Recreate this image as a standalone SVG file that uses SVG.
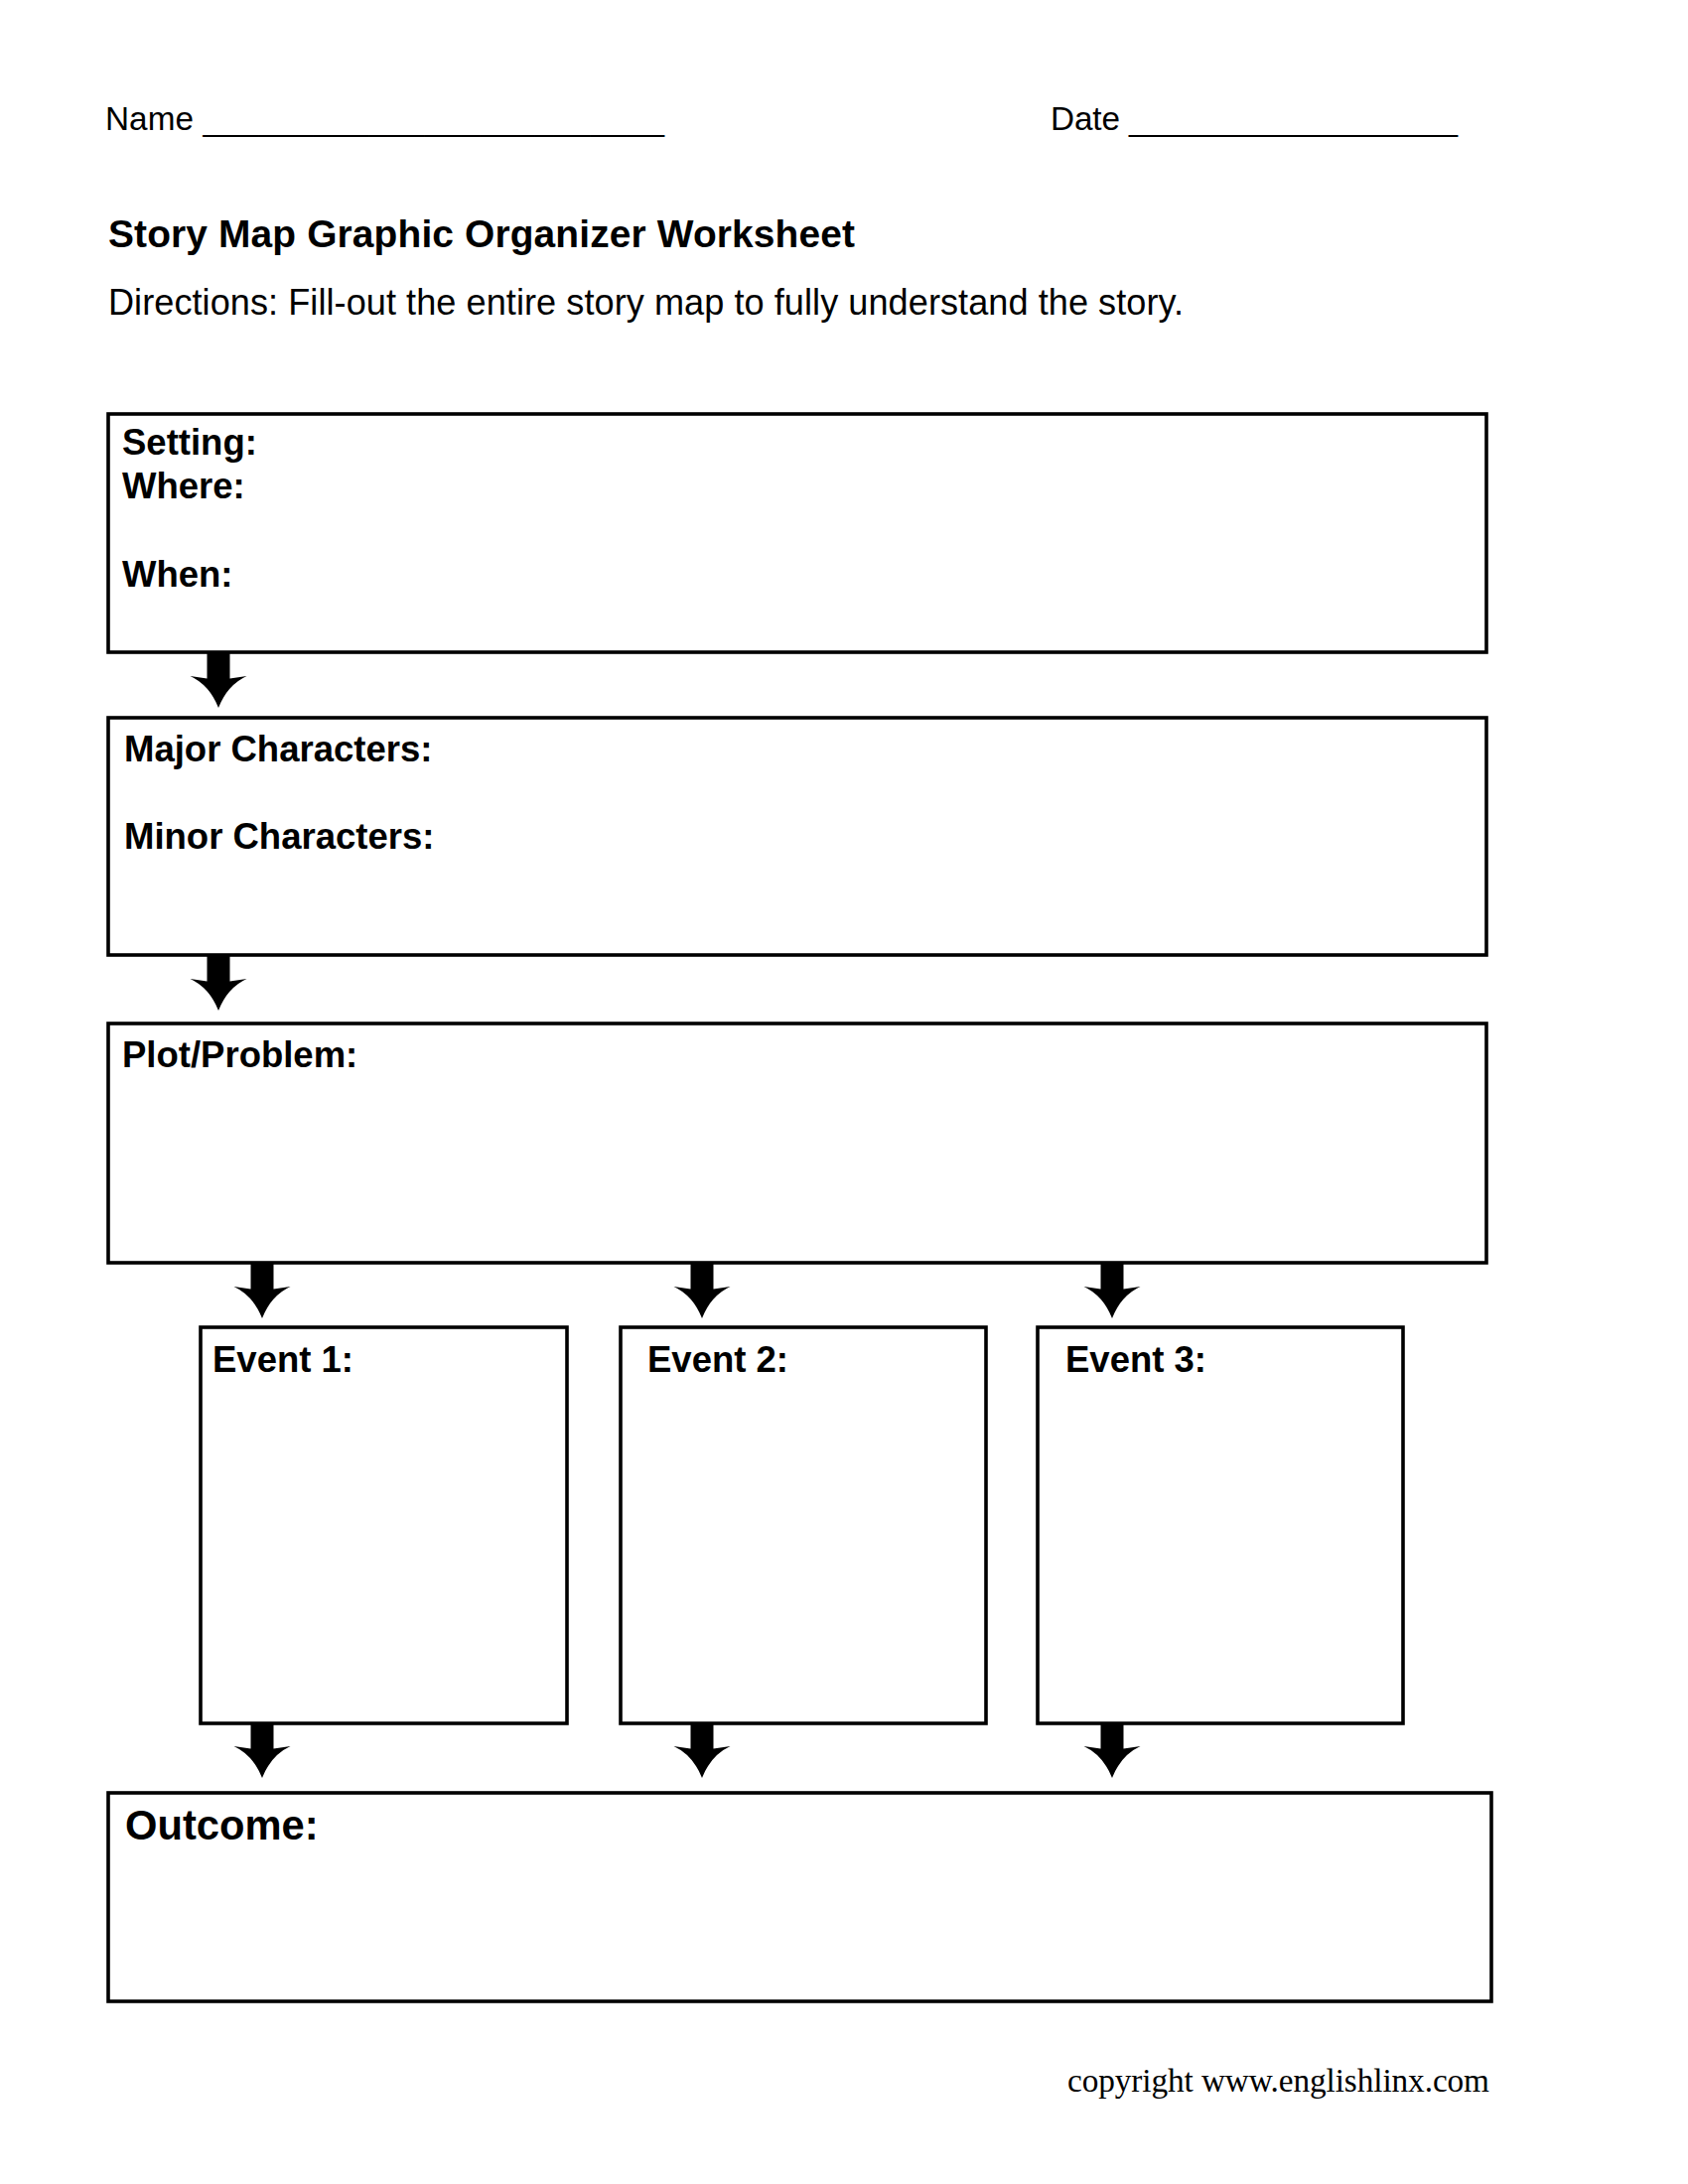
<svg xmlns="http://www.w3.org/2000/svg" xmlns:xlink="http://www.w3.org/1999/xlink" width="1700" height="2200" viewBox="0 0 1700 2200">
  <style>
    .box { fill: #ffffff; stroke: #000000; stroke-width: 3.6; }
    .lbl { font-family: "Liberation Sans", Arial, sans-serif; font-weight: bold; font-size: 36.5px; fill: #000000; }
    .lblBig { font-family: "Liberation Sans", Arial, sans-serif; font-weight: bold; font-size: 41.7px; fill: #000000; }
    .hdr { font-family: "Liberation Sans", Arial, sans-serif; font-size: 33.3px; fill: #000000; }
    .title { font-family: "Liberation Sans", Arial, sans-serif; font-weight: bold; font-size: 38.9px; fill: #000000; }
    .dir { font-family: "Liberation Sans", Arial, sans-serif; font-size: 36.1px; fill: #000000; }
    .copy { font-family: "Liberation Serif", "Times New Roman", serif; font-size: 33.3px; fill: #000000; }
    .arrow { fill: #000000; stroke: none; }
  </style>
  <defs>
    <path id="arrowDown" class="arrow" d="M -11.5,0 H 11.5 V 27.5 L 28.5,25 Q 9,34 0,57 Q -9,34 -28.5,25 L -11.5,27.5 Z"/>
  </defs>
  <rect x="0" y="0" width="1700" height="2200" fill="#ffffff"/>

  <g id="header">
    <text class="hdr" x="106" y="131" textLength="563" lengthAdjust="spacing">Name _________________________</text>
    <text class="hdr" x="1058" y="131" textLength="410" lengthAdjust="spacing">Date __________________</text>
    <text class="title" x="109" y="249" textLength="752" lengthAdjust="spacing">Story Map Graphic Organizer Worksheet</text>
    <text class="dir" x="109" y="317" textLength="1083" lengthAdjust="spacing">Directions: Fill-out the entire story map to fully understand the story.</text>
  </g>

  <g id="connectors">
    <use xlink:href="#arrowDown" href="#arrowDown" transform="translate(220,656)"/>
    <use xlink:href="#arrowDown" href="#arrowDown" transform="translate(220,961)"/>
    <use xlink:href="#arrowDown" href="#arrowDown" transform="translate(264,1271)"/>
    <use xlink:href="#arrowDown" href="#arrowDown" transform="translate(707,1271)"/>
    <use xlink:href="#arrowDown" href="#arrowDown" transform="translate(1120,1271)"/>
    <use xlink:href="#arrowDown" href="#arrowDown" transform="translate(264,1734)"/>
    <use xlink:href="#arrowDown" href="#arrowDown" transform="translate(707,1734)"/>
    <use xlink:href="#arrowDown" href="#arrowDown" transform="translate(1120,1734)"/>
  </g>

  <g id="setting">
    <rect class="box" x="109" y="417" width="1388" height="240"/>
    <text class="lbl" x="123" y="458">Setting:</text>
    <text class="lbl" x="123" y="502">Where:</text>
    <text class="lbl" x="123" y="591">When:</text>
  </g>

  <g id="characters">
    <rect class="box" x="109" y="723" width="1388" height="239"/>
    <text class="lbl" x="125" y="767">Major Characters:</text>
    <text class="lbl" x="125" y="855">Minor Characters:</text>
  </g>

  <g id="plot">
    <rect class="box" x="109" y="1031" width="1388" height="241"/>
    <text class="lbl" x="123" y="1075">Plot/Problem:</text>
  </g>

  <g id="event1">
    <rect class="box" x="202" y="1337" width="369" height="399"/>
    <text class="lbl" x="214" y="1382">Event 1:</text>
  </g>

  <g id="event2">
    <rect class="box" x="625" y="1337" width="368" height="399"/>
    <text class="lbl" x="652" y="1382">Event 2:</text>
  </g>

  <g id="event3">
    <rect class="box" x="1045" y="1337" width="368" height="399"/>
    <text class="lbl" x="1073" y="1382">Event 3:</text>
  </g>

  <g id="outcome">
    <rect class="box" x="109" y="1806" width="1393" height="210"/>
    <text class="lblBig" x="126" y="1853">Outcome:</text>
  </g>

  <g id="footer">
    <text class="copy" x="1075" y="2107" textLength="425" lengthAdjust="spacing">copyright www.englishlinx.com</text>
  </g>
</svg>
